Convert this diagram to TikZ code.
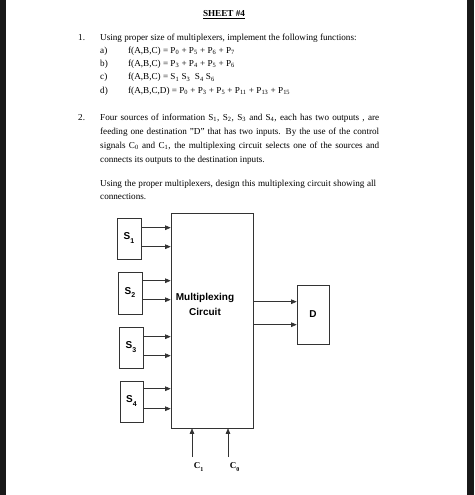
\documentclass[tikz,border=0pt]{standalone}
\usepackage{fontspec}
\setmainfont{Liberation Serif}
\setsansfont{Liberation Sans}
\usetikzlibrary{arrows.meta}
\newcommand\sbs[1]{\textsubscript{#1}}
\tikzset{
  txt/.style={anchor=base west, inner sep=0pt, font=\fontsize{9.15}{11}\selectfont},
  blk/.style={draw=black!80, line width=0.6pt, inner sep=0pt},
  arr/.style={draw=black!80, line width=0.6pt, -{Triangle[length=5.5pt,width=4.5pt]}},
  lbl/.style={font=\sffamily\bfseries\fontsize{10}{14.5}\selectfont, inner sep=0pt},
  srcbox/.style={blk, minimum width=24pt, minimum height=41pt, font=\sffamily\bfseries\fontsize{10}{12}\selectfont},
  ctl/.style={font=\bfseries\fontsize{9}{11}\selectfont, inner sep=0pt},
}
\begin{document}
\begin{tikzpicture}[x=1pt,y=-1pt]
\useasboundingbox (0,0) rectangle (474,495);
\fill[white] (0,0) rectangle (474,495);
\fill[black!90] (0,0) rectangle (6,495);
\fill[black!90] (467,0) rectangle (474,495);

% text
\node[txt, anchor=base] (title) at (224,16.5) {\textbf{\underline{SHEET \#4}}};
\node[txt] (n1) at (78,40.5) {1.};
\node[txt] (q1) at (100,40.5) {Using proper size of multiplexers, implement the following functions:};
\node[txt] (la) at (100,53.5) {a)};
\node[txt] (fa) at (128,53.5) {f(A,B,C) = P\sbs{0} + P\sbs{5} + P\sbs{6} + P\sbs{7}};
\node[txt] (lb) at (100,66.5) {b)};
\node[txt] (fb) at (128,66.5) {f(A,B,C) = P\sbs{3} + P\sbs{4} + P\sbs{5} + P\sbs{6}};
\node[txt] (lc) at (100,80) {c)};
\node[txt] (fc) at (128,80) {f(A,B,C) = S\sbs{1} S\sbs{3}\ \ S\sbs{4} S\sbs{6}};
\node[txt] (ld) at (100,93) {d)};
\node[txt] (fd) at (128,93) {f(A,B,C,D) = P\sbs{0} + P\sbs{3} + P\sbs{5} + P\sbs{11} + P\sbs{13} + P\sbs{15}};

\node[txt] (n2) at (78,120) {2.};
\node[txt] (p1) at (100,120) {\makebox[279pt][s]{Four sources of information S\sbs{1}, S\sbs{2}, S\sbs{3} and S\sbs{4}, each has two outputs , are}};
\node[txt] (p2) at (100,134) {\makebox[279pt][s]{feeding one destination "D" that has two inputs. By the use of the control}};
\node[txt] (p3) at (100,148) {\makebox[279pt][s]{signals C\sbs{0} and C\sbs{1}, the multiplexing circuit selects one of the sources and}};
\node[txt] (p4) at (100,162) {connects its outputs to the destination inputs.};
\node[txt] (p5) at (100,186) {\makebox[276pt][s]{Using the proper multiplexers, design this multiplexing circuit showing all}};
\node[txt] (p6) at (100,199.5) {connections.};

% diagram
\node[blk, minimum width=82pt, minimum height=215pt] (mux) at (212,320.5) {};
\node[lbl, align=center] (mlab) at (205,304.5) {Multiplexing\\Circuit};

\node[srcbox] (s1) at (129,238.5) {S\raisebox{-4pt}{\fontsize{7}{8}\selectfont 1}};
\node[srcbox, minimum height=42pt] (s2) at (130,293) {S\raisebox{-3pt}{\fontsize{7}{8}\selectfont 2}};
\node[srcbox] (s3) at (131,347.5) {S\raisebox{-4pt}{\fontsize{7}{8}\selectfont 3}};
\node[srcbox, minimum width=23pt] (s4) at (131.5,401.5) {S\raisebox{-4pt}{\fontsize{7}{8}\selectfont 4}};

\coordinate (a1) at ([yshift=-10pt]s1.north east);
\coordinate (b1) at ([yshift=-29pt]s1.north east);
\coordinate (a2) at ([yshift=-9pt]s2.north east);
\coordinate (b2) at ([yshift=-28pt]s2.north east);
\coordinate (a3) at ([yshift=-10pt]s3.north east);
\coordinate (b3) at ([yshift=-29pt]s3.north east);
\coordinate (a4) at ([yshift=-8pt]s4.north east);
\coordinate (b4) at ([yshift=-28pt]s4.north east);
\foreach \p in {a1,b1,a2,b2,a3,b3,a4,b4}
  \draw[arr] (\p) -- (\p -| mux.west);

\node[blk, minimum width=32pt, minimum height=59pt, font=\sffamily\bfseries\fontsize{10}{12}\selectfont] (d) at (313,314.5) {D};
\coordinate (o1) at ([yshift=-17pt]d.north west);
\coordinate (o2) at ([yshift=-40pt]d.north west);
\draw[arr] (o1 -| mux.east) -- (o1);
\draw[arr] (o2 -| mux.east) -- (o2);

\coordinate (c1b) at (192,457);
\coordinate (c0b) at (228,457);
\draw[arr] (c1b) -- (c1b |- mux.south);
\draw[arr] (c0b) -- (c0b |- mux.south);
\node[ctl] (c1) at (198.5,467.5) {C\raisebox{-3pt}{\fontsize{6}{7}\selectfont 1}};
\node[ctl] (c0) at (234.5,467.5) {C\raisebox{-3pt}{\fontsize{6}{7}\selectfont 0}};
\end{tikzpicture}
\end{document}
